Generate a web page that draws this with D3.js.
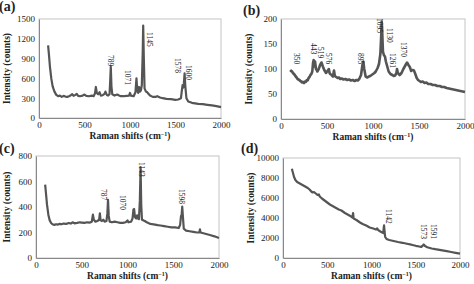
<!DOCTYPE html>
<html>
<head>
<meta charset="utf-8">
<script src="https://cdn.jsdelivr.net/npm/d3@7"></script>
<style>
  body { margin: 0; background: #fff; }
  svg { display: block; }
  text { font-family: "Liberation Serif", "Times New Roman", serif; fill: #222; }
</style>
</head>
<body>
<div id="chart"></div>
<script>
// spectra: [raman shift, intensity]
const specA = [[100,1100],[110,950],[120,780],[135,600],[150,480],[170,400],[190,350],[210,330],[230,340],[250,320],[270,335],[290,325],[310,320],[330,330],[350,345],[365,360],[380,335],[400,350],[415,365],[430,335],[450,330],[480,340],[500,355],[520,335],[550,330],[580,340],[600,330],[615,370],[625,470],[635,380],[650,360],[665,390],[680,340],[700,345],[720,365],[730,400],[745,350],[760,340],[775,360],[782,550],[789,775],[796,480],[805,360],[830,340],[860,355],[880,340],[900,330],[930,330],[960,335],[990,340],[1000,380],[1010,340],[1040,330],[1060,390],[1071,600],[1080,420],[1090,380],[1100,470],[1110,400],[1120,420],[1130,500],[1140,1000],[1145,1400],[1152,900],[1160,450],[1175,400],[1190,390],[1200,370],[1220,340],[1250,320],[1280,320],[1300,330],[1330,310],[1360,300],[1400,290],[1450,285],[1500,275],[1530,280],[1560,300],[1570,420],[1578,500],[1585,460],[1592,520],[1600,675],[1608,480],[1620,300],[1640,250],[1680,230],[1750,215],[1800,210],[1850,200],[1900,190],[1950,180],[2000,165]];

const specB = [[100,98],[110,96],[120,95],[130,92],[140,90],[150,88],[160,85],[170,83],[180,80],[190,79],[200,78],[210,76],[220,75],[230,73],[240,74],[250,72],[260,75],[270,74],[280,78],[290,77],[300,82],[310,84],[320,88],[330,90],[340,95],[348,112],[355,118],[362,105],[370,115],[380,100],[388,98],[395,95],[410,100],[425,108],[440,113],[455,105],[470,98],[480,95],[490,92],[505,96],[520,100],[528,92],[535,90],[550,88],[565,85],[576,97],[585,86],[600,84],[615,82],[630,83],[645,80],[660,81],[680,79],[700,80],[720,78],[740,79],[760,77],[780,78],[800,76],[820,78],[835,77],[850,80],[870,88],[885,108],[895,115],[905,100],[920,85],[940,83],[955,85],[970,86],[985,88],[1000,90],[1015,92],[1030,95],[1050,102],[1065,110],[1080,130],[1090,170],[1095,195],[1100,175],[1108,135],[1118,128],[1130,125],[1140,115],[1155,105],[1170,95],[1190,90],[1210,88],[1225,86],[1240,87],[1255,92],[1261,100],[1270,92],[1290,88],[1310,92],[1330,100],[1345,105],[1360,110],[1370,113],[1385,108],[1400,104],[1415,96],[1430,98],[1445,97],[1460,90],[1475,82],[1490,78],[1505,76],[1520,74],[1540,75],[1560,72],[1580,73],[1600,70],[1625,70],[1650,68],[1675,68],[1700,66],[1725,66],[1750,64],[1775,64],[1800,62],[1825,61],[1850,60],[1875,59],[1900,58],[1925,57],[1950,56],[1975,55],[2000,54]];

const specC = [[100,575],[110,500],[120,420],[135,340],[150,295],[165,275],[180,265],[200,260],[220,265],[240,262],[260,268],[280,265],[300,270],[330,268],[360,275],[380,270],[400,280],[420,272],[450,275],[480,280],[500,278],[530,275],[560,280],[590,278],[610,285],[622,340],[632,300],[650,285],[670,290],[690,300],[698,350],[706,295],[720,290],[735,300],[750,285],[770,290],[780,350],[787,456],[795,330],[805,285],[830,280],[860,285],[890,280],[920,275],[950,275],[980,280],[1000,295],[1010,280],[1040,285],[1055,310],[1065,380],[1072,385],[1082,320],[1095,310],[1105,335],[1115,310],[1125,305],[1135,450],[1143,713],[1150,420],[1158,300],[1175,295],[1190,290],[1210,280],[1240,270],[1270,265],[1300,262],[1330,258],[1360,255],[1400,250],[1440,245],[1480,240],[1520,240],[1560,235],[1575,260],[1585,330],[1592,340],[1598,404],[1605,330],[1615,230],[1640,215],[1680,210],[1720,205],[1760,200],[1785,200],[1792,225],[1798,200],[1850,190],[1900,180],[1950,170],[2000,157]];

const specD = [[100,8930],[110,8600],[125,8100],[140,7800],[160,7600],[190,7450],[220,7300],[250,7150],[280,7000],[300,6850],[320,6650],[335,6550],[350,6600],[370,6450],[390,6300],[405,6350],[415,6150],[440,5950],[470,5750],[500,5550],[530,5350],[560,5200],[600,5000],[630,4850],[660,4750],[700,4500],[740,4300],[770,4150],[785,4050],[792,4500],[798,3950],[830,3800],[870,3550],[900,3400],[940,3250],[980,3050],[1020,2950],[1050,2850],[1065,2950],[1075,2800],[1100,2650],[1120,2550],[1133,2500],[1138,3000],[1142,3270],[1148,2600],[1155,2100],[1170,1900],[1200,1800],[1250,1700],[1300,1600],[1350,1520],[1400,1420],[1450,1330],[1500,1220],[1540,1150],[1560,1100],[1575,1200],[1590,1350],[1605,1200],[1630,1080],[1680,950],[1720,880],[1800,760],[1850,680],[1900,600],[1950,520],[2000,440]];

// peak labels: [text, shift where label sits, intensity at label top]
const peaksA = [["789",791,955],["1071",978,727],["1145",1220,1303],["1578",1527,909],["1600",1648,803]];
const peaksB = [["350",174,132],["443",359,152],["519",435,144],["576",522,132],["895",870,132],["1095",1076,202],["1130",1185,182],["1261",1217,132],["1370",1337,154]];
const peaksC = [["787",743,541],["1070",951,494],["1143",1158,753],["1598",1596,541]];
const peaksD = [["1142",1198,4900],["1573",1593,3400],["1591",1706,3400]];

const xTicks = [0, 500, 1000, 1500, 2000];
const yTicksA = [0, 300, 600, 900, 1200, 1500];
const yTicksB = [0, 50, 100, 150, 200];
const yTicksC = [0, 200, 400, 600, 800];
const yTicksD = [0, 2000, 4000, 6000, 8000, 10000];

const W = 474, H = 284;
const svg = d3.select("#chart").append("svg").attr("width", W).attr("height", H);

const panels = [
  {tag: "(a)", data: specA, peaks: peaksA, yTicks: yTicksA, yMax: 1500, box: [39, 221, 19, 118], tagPos: [-1, 11], yTitleX: 7, lw: 2.2},
  {tag: "(b)", data: specB, peaks: peaksB, yTicks: yTicksB, yMax: 200, box: [281, 465, 19, 119], tagPos: [243, 15], yTitleX: 249, lw: 2.6},
  {tag: "(c)", data: specC, peaks: peaksC, yTicks: yTicksC, yMax: 800, box: [36, 219, 156, 258], tagPos: [-1, 153], yTitleX: 7, lw: 2.2},
  {tag: "(d)", data: specD, peaks: peaksD, yTicks: yTicksD, yMax: 10000, box: [283, 460, 158, 258], tagPos: [241, 153], yTitleX: 251, lw: 2.2}
];

const fmt = d3.format("d");

panels.forEach(p => {
  const [x0, x1, y0, y1] = p.box;
  const x = d3.scaleLinear().domain([0, 2000]).range([x0, x1]);
  const y = d3.scaleLinear().domain([0, p.yMax]).range([y1, y0]);
  const g = svg.append("g");

  // plot frame
  g.append("rect")
    .attr("x", x0).attr("y", y0)
    .attr("width", x1 - x0).attr("height", y1 - y0)
    .attr("fill", "none").attr("stroke", "#c4c4c4").attr("stroke-width", 1);

  // axes, no tick marks
  const xAxis = g.append("g").attr("transform", `translate(0, ${y1})`)
    .call(d3.axisBottom(x).tickValues(xTicks).tickFormat(fmt).tickSize(0).tickPadding(4));
  const yAxis = g.append("g").attr("transform", `translate(${x0}, 0)`)
    .call(d3.axisLeft(y).tickValues(p.yTicks).tickFormat(fmt).tickSize(0).tickPadding(4));
  xAxis.select(".domain").attr("stroke", "#888");
  yAxis.select(".domain").attr("stroke", "#888");
  g.selectAll(".tick text")
    .attr("font-family", "Liberation Serif").attr("font-size", 9).attr("fill", "#222");

  // spectrum
  g.append("path")
    .datum(p.data)
    .attr("fill", "none")
    .attr("stroke", "#555")
    .attr("stroke-width", p.lw)
    .attr("stroke-linejoin", "round")
    .attr("d", d3.line().x(d => x(d[0])).y(d => y(d[1])));

  // peak labels, vertical
  g.selectAll("text.peak").data(p.peaks).enter().append("text")
    .attr("class", "peak")
    .attr("transform", d => `translate(${x(d[1])}, ${y(d[2])}) rotate(90)`)
    .attr("dy", "0.35em")
    .attr("font-size", 7.5)
    .text(d => d[0]);

  // titles
  g.append("text")
    .attr("x", (x0 + x1) / 2).attr("y", y1 + 21)
    .attr("text-anchor", "middle")
    .attr("font-size", 9.5).attr("font-weight", "bold")
    .html("Raman shifts (cm<tspan baseline-shift='super' font-size='6'>−1</tspan>)");

  g.append("text")
    .attr("transform", `translate(${p.yTitleX}, ${(y0 + y1) / 2}) rotate(-90)`)
    .attr("text-anchor", "middle")
    .attr("dy", "0.35em")
    .attr("font-size", 9.5).attr("font-weight", "bold")
    .text("Intensity (counts)");

  g.append("text")
    .attr("x", p.tagPos[0]).attr("y", p.tagPos[1])
    .attr("font-size", 14).attr("font-weight", "bold")
    .text(p.tag);
});
</script>
</body>
</html>
